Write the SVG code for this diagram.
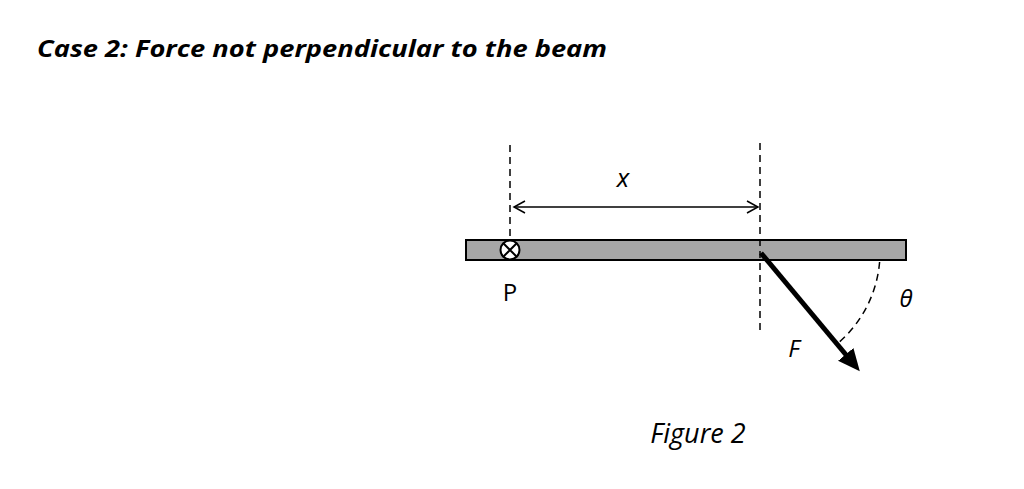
<svg xmlns="http://www.w3.org/2000/svg" width="1024" height="489" viewBox="0 0 1024 489">
<style>
text{font-family:"Open Sans","Liberation Sans",sans-serif;fill:#000}
.dash{stroke:#000;stroke-width:1.5;stroke-dasharray:7,5;fill:none}
</style>
<defs>
<marker id="open" markerWidth="14" markerHeight="14" refX="12" refY="7" orient="auto-start-reverse" markerUnits="userSpaceOnUse"><path d="M1,1 L12,7 L1,13" fill="none" stroke="#000" stroke-width="1.5"/></marker>
<marker id="solid" markerWidth="30" markerHeight="30" refX="2" refY="10" orient="auto" markerUnits="userSpaceOnUse"><path d="M0,0 L22,10 L0,20 Z" fill="#000"/></marker>
</defs>
<rect width="1024" height="489" fill="#fff"/>
<text x="37" y="57" font-size="24" font-weight="bold" font-style="italic" textLength="570" lengthAdjust="spacingAndGlyphs">Case 2: Force not perpendicular to the beam</text>
<g id="beam"><rect x="466" y="240" width="440" height="20" fill="#a6a6a6" stroke="#000" stroke-width="2"/></g>
<g id="connectors">
<line class="dash" x1="510" y1="145" x2="510" y2="240"/>
<line class="dash" x1="760" y1="143" x2="760" y2="334"/>
<line x1="514" y1="207" x2="758" y2="207" stroke="#000" stroke-width="1.5" marker-start="url(#open)" marker-end="url(#open)"/>
<line x1="761" y1="253" x2="847" y2="356" stroke="#000" stroke-width="5" marker-end="url(#solid)"/>
<path class="dash" d="M879.6,262 A120,120 0 0 1 837,344"/>
</g>
<g id="pivot"><circle cx="510" cy="250" r="9.5" fill="#fff" stroke="#000" stroke-width="2"/><path d="M503.3,243.3 L516.7,256.7 M516.7,243.3 L503.3,256.7" stroke="#000" stroke-width="2"/></g>
<text x="510" y="301" font-size="24" text-anchor="middle">P</text>
<text x="623" y="187" font-size="26" font-style="italic" text-anchor="middle">x</text>
<text x="906" y="307" font-size="24" font-style="italic" text-anchor="middle">θ</text>
<text x="794" y="357" font-size="24" font-style="italic" text-anchor="middle">F</text>
<text x="698" y="443" font-size="27" font-style="italic" text-anchor="middle">Figure 2</text>
</svg>
